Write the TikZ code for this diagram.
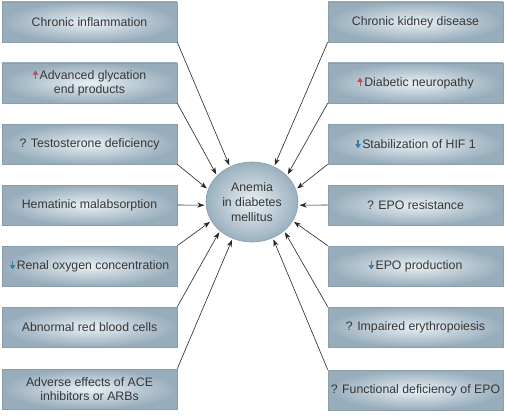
\documentclass[tikz,border=0pt]{standalone}
\usepackage{fontspec}
\setmainfont{Liberation Sans}
\usetikzlibrary{shapes.geometric,arrows.meta}
\definecolor{boxedge}{HTML}{8A9DAB}
\definecolor{boxin}{HTML}{E8F0F4}
\definecolor{boxout}{HTML}{98ADBC}
\definecolor{ellin}{HTML}{EAF0F3}
\definecolor{ellout}{HTML}{9AB0BF}
\definecolor{txt}{HTML}{363636}
\definecolor{upred}{HTML}{C24A5A}
\definecolor{downblue}{HTML}{3A7DA8}
\newcommand{\uparr}{\tikz[baseline=0pt]\draw[upred,line width=1.1pt,-{Triangle[length=4.5pt,width=5.5pt]}](0pt,0pt)--(0pt,9pt);\hspace{1.5pt}}
\newcommand{\downarr}{\tikz[baseline=0pt]\draw[downblue,line width=1.1pt,-{Triangle[length=4.5pt,width=5.5pt]}](0pt,9pt)--(0pt,0pt);\hspace{1.5pt}}
\begin{document}
\begin{tikzpicture}[x=1pt,y=-1pt,
  box/.style={rectangle, draw=boxedge, line width=0.6pt, inner color=boxin, outer color=boxout,
    minimum width=175pt, minimum height=40pt, text=txt, font=\fontsize{12.3}{14.5}\selectfont,
    align=center, inner sep=2pt},
  hub/.style={ellipse, draw=boxedge, line width=0.6pt, inner color=ellin, outer color=ellout,
    minimum width=92pt, minimum height=80pt, text=txt, font=\fontsize{12.3}{15}\selectfont,
    align=center, inner sep=1pt},
  arr/.style={draw=black!85, line width=0.6pt, -{Stealth[length=7pt,width=5pt]}, shorten >=1.5pt}]
\useasboundingbox (0,0) rectangle (505,417);
\fill[white] (0,0) rectangle (505,417);
% left column
\node[box] (l1) at (89.5,22) {Chronic inflammation};
\node[box] (l2) at (89.5,83) {\uparr Advanced glycation\\end products};
\node[box] (l3) at (89.5,144) {? Testosterone deficiency};
\node[box] (l4) at (89.5,205) {Hematinic malabsorption};
\node[box] (l5) at (89.5,266) {\downarr Renal oxygen concentration};
\node[box] (l6) at (89.5,327) {Abnormal red blood cells};
\node[box] (l7) at (89.5,389) {Adverse effects of ACE\\inhibitors or ARBs};
% right column
\node[box] (r1) at (415.5,22) {Chronic kidney disease};
\node[box] (r2) at (415.5,83) {\uparr Diabetic neuropathy};
\node[box] (r3) at (415.5,144) {\downarr Stabilization of HIF 1};
\node[box] (r4) at (415.5,205) {? EPO resistance};
\node[box] (r5) at (415.5,266) {\downarr EPO production};
\node[box] (r6) at (415.5,327) {? Impaired erythropoiesis};
\node[box] (r7) at (415.5,390) {? Functional deficiency of EPO};
% centre
\node[hub] (c) at (252,202) {Anemia\\in diabetes\\mellitus};
% connectors
\draw[arr] (l1.south east) -- (c.122);
\draw[arr] (l2.south east) -- (c.143);
\draw[arr] (l3.south east) -- (c.164);
\draw[arr] (l4.east) -- (c.184);
\draw[arr] (l5.north east) -- (c.205);
\draw[arr] (l6.north east) -- (c.222);
\draw[arr] (l7.north east) -- (c.242);
\draw[arr] (r1.south west) -- (c.58);
\draw[arr] (r2.south west) -- (c.37);
\draw[arr] (r3.south west) -- (c.16);
\draw[arr] (r4.west) -- (c.-4);
\draw[arr] (r5.north west) -- (c.-25);
\draw[arr] (r6.north west) -- (c.-42);
\draw[arr] (r7.north west) -- (c.-60);
\end{tikzpicture}
\end{document}
